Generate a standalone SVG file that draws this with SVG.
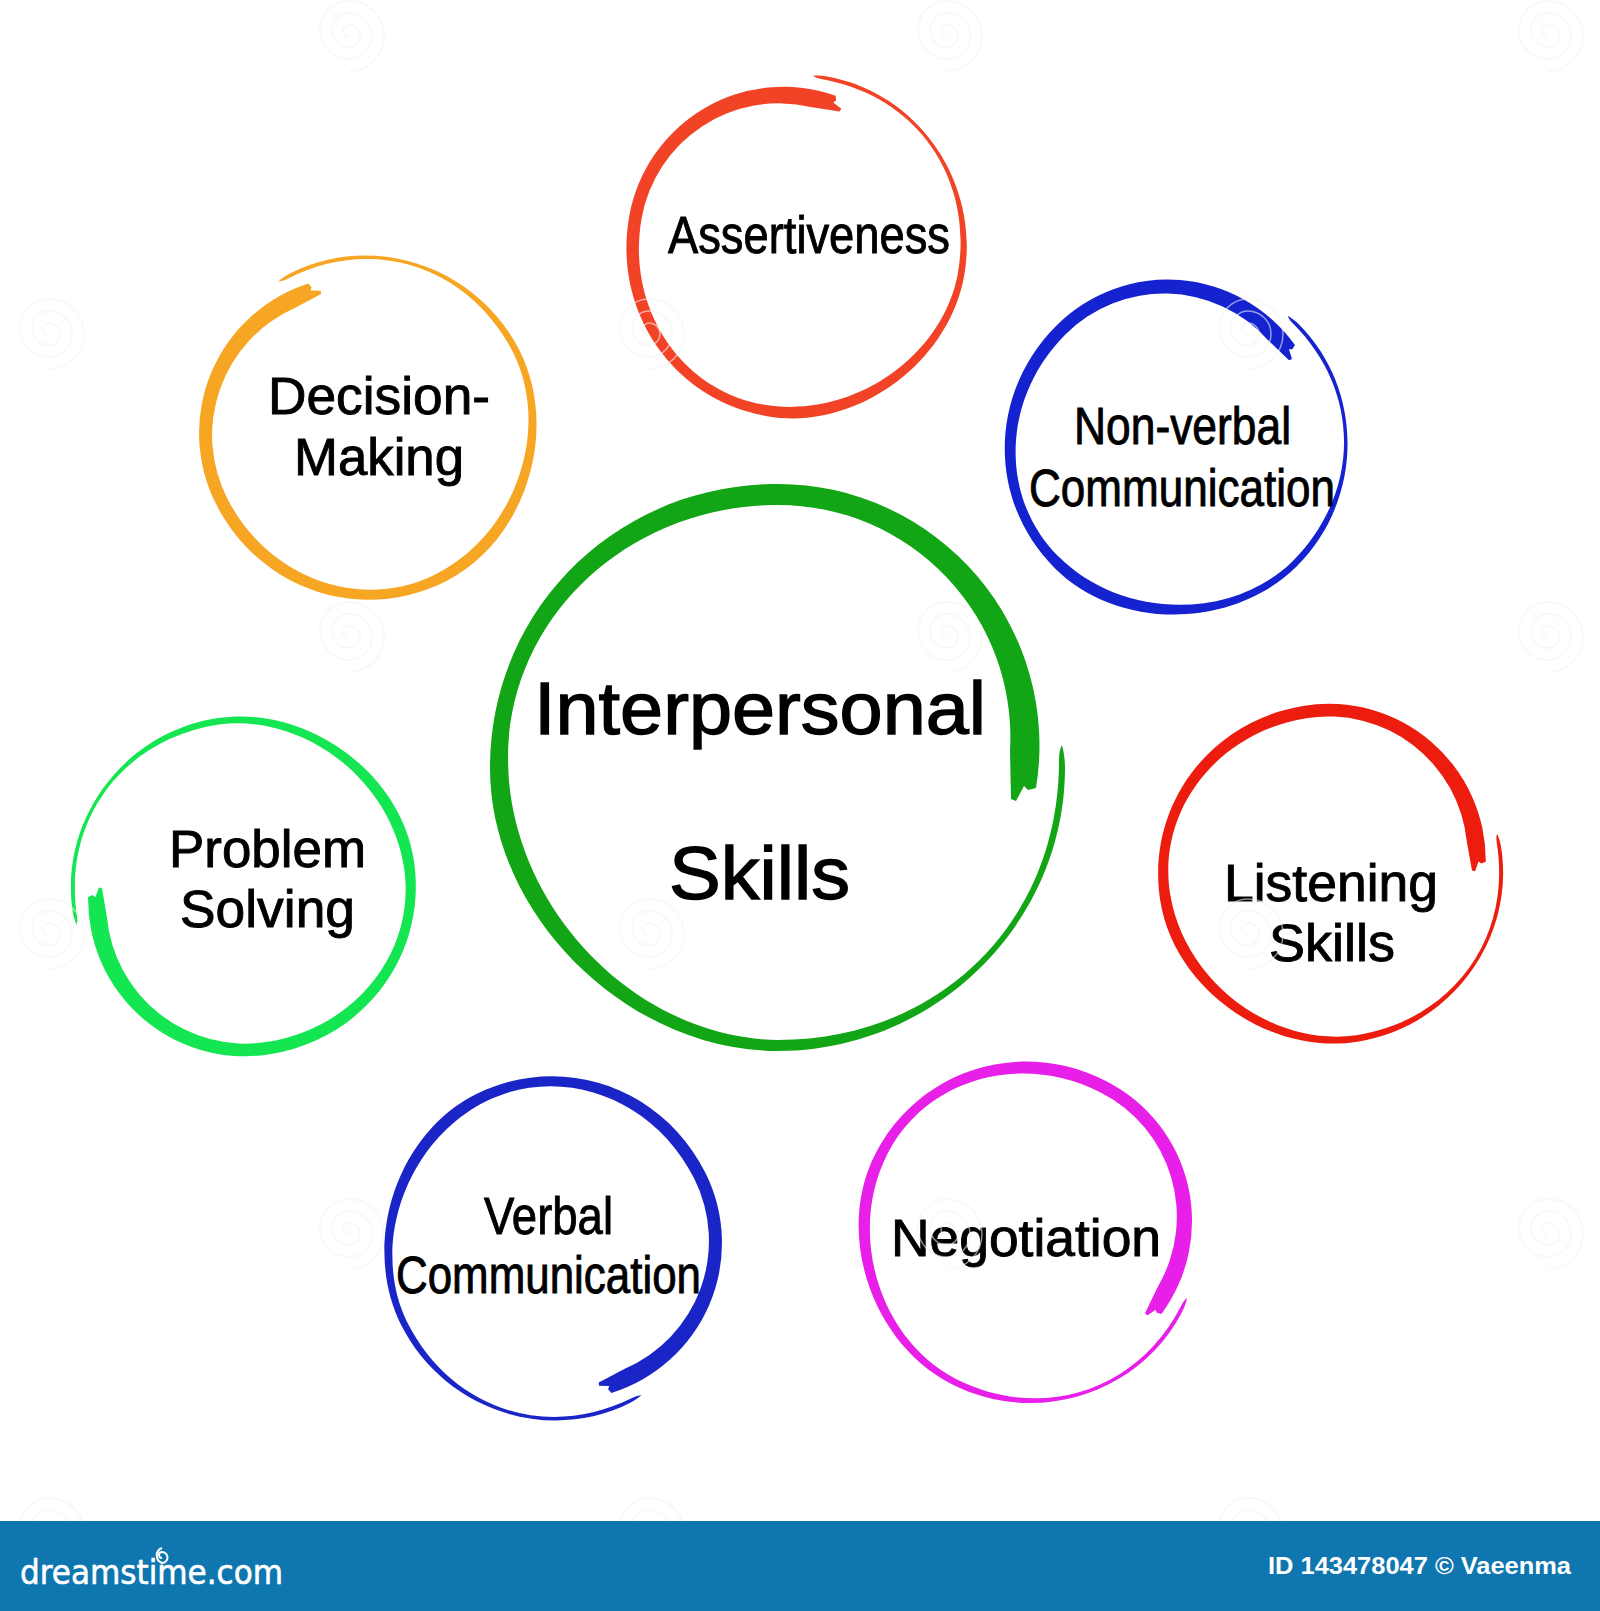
<svg xmlns="http://www.w3.org/2000/svg" width="1600" height="1611" viewBox="0 0 1600 1611">
<style>
.lab{font-family:"Liberation Sans",Arial,sans-serif;fill:#000;stroke:#000;stroke-width:.9;font-size:51px}
.big{font-size:75px;stroke-width:1.4}
.wu{fill:none;stroke:#f1f1f1;stroke-width:1.5}
.wo{fill:none;stroke:#fff;stroke-width:1.5;opacity:.55}
.foot{font-family:"Liberation Sans",Arial,sans-serif;fill:#fff;font-weight:700;font-size:24px}
.logo{font-family:"DejaVu Sans",sans-serif;fill:#fff;stroke:#fff;stroke-width:.6;font-size:33px}
</style>
<defs>
<path id="ring" d="M284,-23 C286,-15 287,-8 287,0 C287,156 156,283 0,283 C-150,283 -288,148 -288,0 C-288,-159 -161,-284 0,-284 A261.5 261.5 0 0 1 258,20 L250,22 L246,18 L238,33 L233,31 L232,-18 A232 232 0 0 0 0,-263 C-150,-263 -270,-150 -270,-10 C-270,138 -143,270 0,272 C160,272 281,155 281,-7 Q281,-18 284,-23 Z"/>
<path id="sp" d="M0,4 A6 6 0 0 1 0,-8 A11 11 0 0 1 0,14 A17 17 0 0 1 0,-20 A23 23 0 0 1 0,26 A29 29 0 0 1 0,-32 A35 35 0 0 1 0,38"/>
<g id="wm">
<use href="#sp" x="349" y="33"/><use href="#sp" x="947" y="33"/><use href="#sp" x="1548" y="33"/>
<use href="#sp" x="49" y="331"/><use href="#sp" x="649" y="331"/><use href="#sp" x="1248" y="331"/>
<use href="#sp" x="349" y="634"/><use href="#sp" x="947" y="634"/><use href="#sp" x="1548" y="634"/>
<use href="#sp" x="49" y="931"/><use href="#sp" x="649" y="931"/><use href="#sp" x="1248" y="931"/>
<use href="#sp" x="349" y="1231"/><use href="#sp" x="947" y="1231"/><use href="#sp" x="1548" y="1231"/>
<use href="#sp" x="49" y="1530"/><use href="#sp" x="649" y="1530"/><use href="#sp" x="1248" y="1530"/>
</g>
</defs>
<rect width="1600" height="1611" fill="#fff"/>
<use href="#wm" class="wu"/>
<g id="connectors"/>
<g id="node-center">
<use href="#ring" transform="translate(778,768)" fill="#12a515"/>
<text class="lab big" x="534" y="734" textLength="452" lengthAdjust="spacingAndGlyphs">Interpersonal</text>
<text class="lab big" x="669" y="899" textLength="181" lengthAdjust="spacingAndGlyphs">Skills</text>
</g>
<g id="node-assertiveness">
<use href="#ring" transform="translate(797,246) rotate(-80) scale(.6)" fill="#f24327"/>
<text class="lab" x="668" y="253" textLength="282" lengthAdjust="spacingAndGlyphs">Assertiveness</text>
</g>
<g id="node-decision">
<use href="#ring" transform="translate(368,427) rotate(-117) scale(.6)" fill="#f6a623"/>
<text class="lab" x="268" y="414" textLength="222" lengthAdjust="spacingAndGlyphs">Decision-</text>
<text class="lab" x="294" y="475" textLength="170" lengthAdjust="spacingAndGlyphs">Making</text>
</g>
<g id="node-nonverbal">
<use href="#ring" transform="translate(1177,446) rotate(-45) scale(.6)" fill="#1522cf"/>
<text class="lab" x="1074" y="444" textLength="217" lengthAdjust="spacingAndGlyphs">Non-verbal</text>
<text class="lab" x="1029" y="506" textLength="306" lengthAdjust="spacingAndGlyphs">Communication</text>
</g>
<g id="node-problem">
<use href="#ring" transform="translate(243,886) rotate(171.5) scale(.6)" fill="#13e650"/>
<text class="lab" x="169" y="867" textLength="197" lengthAdjust="spacingAndGlyphs">Problem</text>
<text class="lab" x="180" y="927" textLength="175" lengthAdjust="spacingAndGlyphs">Solving</text>
</g>
<g id="node-listening">
<use href="#ring" transform="translate(1331,874) rotate(-9) scale(.6)" fill="#ec1c0e"/>
<text class="lab" x="1224" y="901" textLength="214" lengthAdjust="spacingAndGlyphs">Listening</text>
<text class="lab" x="1269" y="961" textLength="126" lengthAdjust="spacingAndGlyphs">Skills</text>
</g>
<g id="node-verbal">
<use href="#ring" transform="translate(553,1249) rotate(63.5) scale(.6)" fill="#1a25c8"/>
<text class="lab" x="484" y="1234" textLength="129" lengthAdjust="spacingAndGlyphs">Verbal</text>
<text class="lab" x="396" y="1293" textLength="305" lengthAdjust="spacingAndGlyphs">Communication</text>
</g>
<g id="node-negotiation">
<use href="#ring" transform="translate(1029,1233) rotate(27) scale(.6)" fill="#e81fe8"/>
<text class="lab" x="891" y="1256" textLength="270" lengthAdjust="spacingAndGlyphs">Negotiation</text>
</g>
<use href="#wm" class="wo"/>
<g id="footer">
<rect x="0" y="1521" width="1600" height="90" fill="#0f76b0"/>
<text class="logo" x="20" y="1584" textLength="263" lengthAdjust="spacingAndGlyphs">dreamstime.com</text>
<path d="M162,1558 A3 3 0 0 1 162,1552 A5.5 5.5 0 0 1 162,1563 A8 8 0 0 1 162,1548" fill="#0f76b0" stroke="#fff" stroke-width="2"/>
<text class="foot" x="1268" y="1574" textLength="303" lengthAdjust="spacingAndGlyphs">ID 143478047 © Vaeenma</text>
</g>
</svg>
